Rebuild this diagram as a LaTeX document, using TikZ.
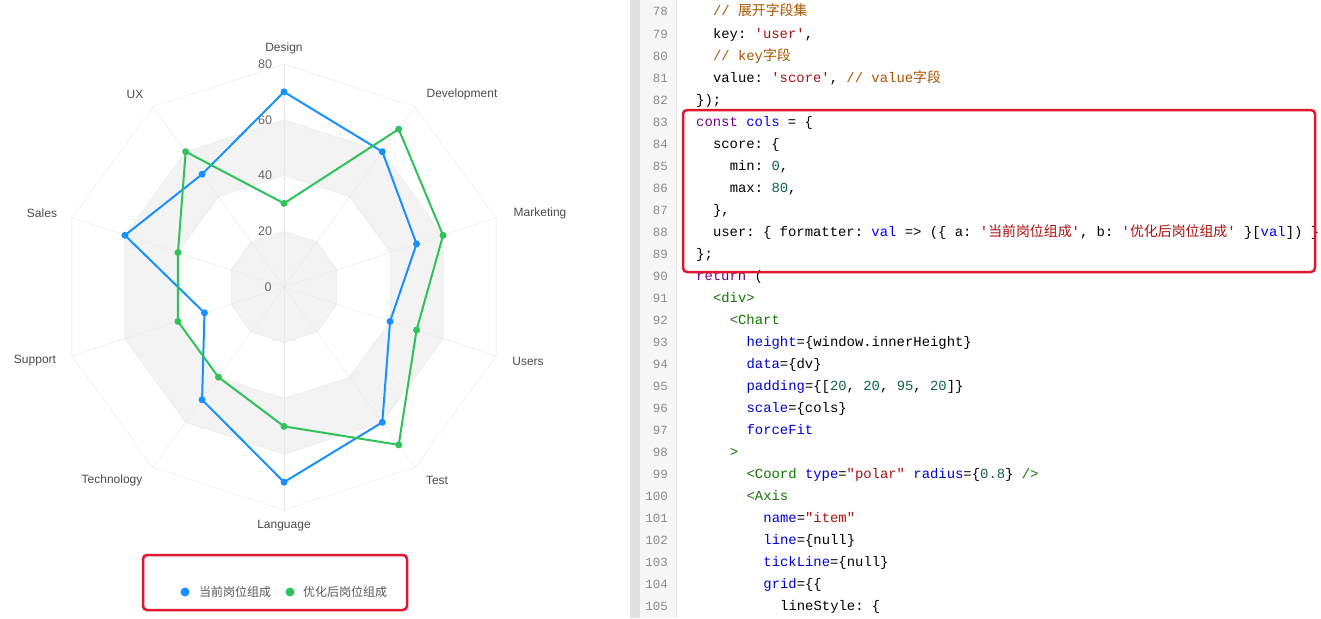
\documentclass[tikz,border=0pt]{standalone}
\usepackage{fontspec}
\setmainfont{Liberation Sans}
\setmonofont{Liberation Mono}
\newfontfamily\cjk{Noto Sans CJK SC}
\definecolor{cblue}{HTML}{1890FF}
\definecolor{cgreen}{HTML}{2FC25B}
\definecolor{gridc}{HTML}{E8E8E8}
\definecolor{bandc}{HTML}{F3F3F3}
\definecolor{redbox}{HTML}{E0182F}
\definecolor{kwc}{HTML}{770088}
\definecolor{dfc}{HTML}{0000FF}
\definecolor{stc}{HTML}{AA1111}
\definecolor{nmc}{HTML}{116644}
\definecolor{cmc}{HTML}{AA5500}
\definecolor{tgc}{HTML}{117700}
\definecolor{atc}{HTML}{0000CC}
\newcommand\kw[1]{\textcolor{kwc}{#1}}
\newcommand\df[1]{\textcolor{dfc}{#1}}
\newcommand\st[1]{\textcolor{stc}{#1}}
\newcommand\nm[1]{\textcolor{nmc}{#1}}
\newcommand\cm[1]{\textcolor{cmc}{#1}}
\newcommand\tg[1]{\textcolor{tgc}{#1}}
\newcommand\at[1]{\textcolor{atc}{#1}}
\newcommand\cl[3]{%
  \node[codetxt] (l#1) at ({696+#2*8.4},{11+(#1-78)*22+5}) {#3};
  \node[lnum] (n#1) at (668,{11+(#1-78)*22+5}) {#1};}
\tikzset{
  codetxt/.style={anchor=base west,inner sep=0pt,font=\ttfamily\fontsize{13.9}{16}\selectfont},
  lnum/.style={anchor=base east,inner sep=0pt,text=black!45,font=\ttfamily\fontsize{12.5}{15}\selectfont},
  cat/.style={inner sep=0pt,text=black!70,font=\fontsize{12}{14}\selectfont},
  tick/.style={inner sep=0pt,text=black!60,font=\fontsize{12.5}{14}\selectfont},
  leg/.style={anchor=west,inner sep=0pt,text=black!65,font=\cjk\fontsize{12}{14}\selectfont},
  redframe/.style={draw=redbox,line width=2.5pt,rounded corners=4pt},
  series/.style={line width=2pt,line join=round},
  dot/.style={circle,inner sep=0pt,minimum size=7pt},
}
\begin{document}
\begin{tikzpicture}[x=1pt,y=-1pt]
\path[use as bounding box,fill=white] (0,0) rectangle (1321,618);
% code panel background
\fill[black!12] (630,0) rectangle (640,618);
\fill[black!3] (640,0) rectangle (676,618);
\draw[black!12] (676,0) -- (676,618);
% radar grid
\def\sc{2.7875}
\foreach \r/\f in {80/white,60/bandc,40/white,20/bandc}{
  \fill[\f] ({284+\r*\sc*cos(90)},{287-\r*\sc*sin(90)})
    \foreach \i in {1,...,9}{ -- ({284+\r*\sc*cos(90-36*\i)},{287-\r*\sc*sin(90-36*\i)}) } -- cycle;
}
\foreach \r in {20,40,60,80}{
  \draw[gridc] ({284+\r*\sc*cos(90)},{287-\r*\sc*sin(90)})
    \foreach \i in {1,...,9}{ -- ({284+\r*\sc*cos(90-36*\i)},{287-\r*\sc*sin(90-36*\i)}) } -- cycle;
}
\coordinate (o) at (284,287);
\foreach \i in {0,...,9}{
  \coordinate (ax\i) at ({284+80*\sc*cos(90-36*\i)},{287-80*\sc*sin(90-36*\i)});
  \draw[gridc] (o) -- (ax\i);
}
% tick labels
\node[tick] (t80) at (265,64) {80};
\node[tick] (t60) at (265,120) {60};
\node[tick] (t40) at (265,175) {40};
\node[tick] (t20) at (265,231) {20};
\node[tick] (t0) at (268,287) {0};
% category labels
\node[cat] (cDesign) at (284,48) {Design};
\node[cat] (cDev) at (462,94) {Development};
\node[cat] (cMkt) at (540,213) {Marketing};
\node[cat] (cUsers) at (528,361) {Users};
\node[cat] (cTest) at (437,480) {Test};
\node[cat] (cLang) at (284,526) {Language};
\node[cat] (cTech) at (112,480) {Technology};
\node[cat] (cSupport) at (35,361) {Support};
\node[cat] (cSales) at (42,213) {Sales};
\node[cat] (cUX) at (135,94) {UX};
% data
\foreach \v [count=\k from 0] in {70,60,50,40,60,70,50,30,60,50}{
  \coordinate (b\k) at ({284+\v*\sc*cos(90-36*\k)},{287-\v*\sc*sin(90-36*\k)});}
\foreach \v [count=\k from 0] in {30,70,60,50,70,50,40,40,40,60}{
  \coordinate (g\k) at ({284+\v*\sc*cos(90-36*\k)},{287-\v*\sc*sin(90-36*\k)});}
\draw[series,cblue] (b0)--(b1)--(b2)--(b3)--(b4)--(b5)--(b6)--(b7)--(b8)--(b9)--cycle;
\draw[series,cgreen] (g0)--(g1)--(g2)--(g3)--(g4)--(g5)--(g6)--(g7)--(g8)--(g9)--cycle;
\foreach \k in {0,...,9}{
  \node[dot,fill=cblue] (bd\k) at (b\k) {};
  \node[dot,fill=cgreen] (gd\k) at (g\k) {};}
% legend
\node[dot,fill=cblue,minimum size=9pt] (lb) at (185,592) {};
\node[leg] (lbt) at (199,592) {当前岗位组成};
\node[dot,fill=cgreen,minimum size=9pt] (lg) at (290,592) {};
\node[leg] (lgt) at (303,592) {优化后岗位组成};
\draw[redframe] (143,555) rectangle (407,610);
% code
\cl{78}{2}{\cm{// {\cjk 展开字段集}}}
\cl{79}{2}{key: \st{'user'},}
\cl{80}{2}{\cm{// key{\cjk 字段}}}
\cl{81}{2}{value: \st{'score'}, \cm{// value{\cjk 字段}}}
\cl{82}{0}{\});}
\cl{83}{0}{\kw{const} \df{cols} = \{}
\cl{84}{2}{score: \{}
\cl{85}{4}{min: \nm{0},}
\cl{86}{4}{max: \nm{80},}
\cl{87}{2}{\},}
\cl{88}{2}{user: \{ formatter: \df{val} => (\{ a: \st{'{\cjk 当前岗位组成}'}, b: \st{'{\cjk 优化后岗位组成}'} \}[\df{val}]) \}}
\cl{89}{0}{\};}
\cl{90}{0}{\kw{return} (}
\cl{91}{2}{\tg{<div>}}
\cl{92}{4}{\tg{<Chart}}
\cl{93}{6}{\at{height}=\{window.innerHeight\}}
\cl{94}{6}{\at{data}=\{dv\}}
\cl{95}{6}{\at{padding}=\{[\nm{20}, \nm{20}, \nm{95}, \nm{20}]\}}
\cl{96}{6}{\at{scale}=\{cols\}}
\cl{97}{6}{\at{forceFit}}
\cl{98}{4}{\tg{>}}
\cl{99}{6}{\tg{<Coord} \at{type}=\st{"polar"} \at{radius}=\{\nm{0.8}\} \tg{/>}}
\cl{100}{6}{\tg{<Axis}}
\cl{101}{8}{\at{name}=\st{"item"}}
\cl{102}{8}{\at{line}=\{null\}}
\cl{103}{8}{\at{tickLine}=\{null\}}
\cl{104}{8}{\at{grid}=\{\{}
\cl{105}{10}{lineStyle: \{}
\draw[redframe] (683,110) rectangle (1315,272);
\end{tikzpicture}
\end{document}
